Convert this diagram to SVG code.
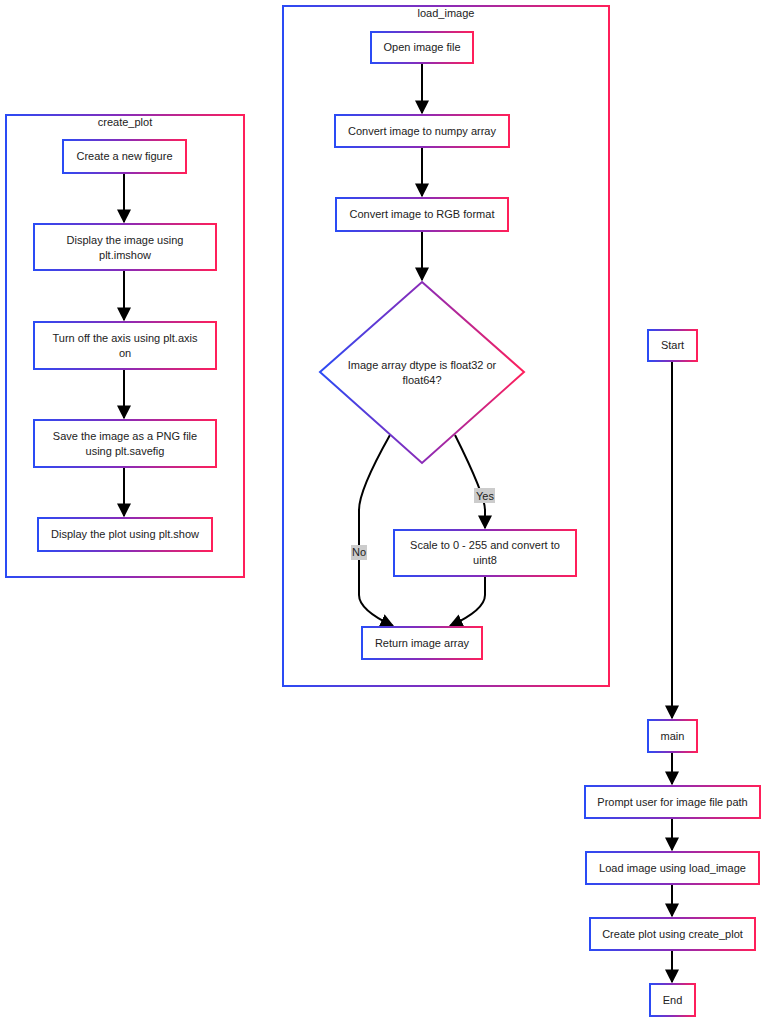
<svg xmlns="http://www.w3.org/2000/svg" width="768" height="1024" viewBox="0 0 768 1024">
<defs>
<linearGradient id="g" x1="0" y1="0" x2="1" y2="0"><stop offset="0" stop-color="#2a4bf5"/><stop offset="0.5" stop-color="#8a2bb8"/><stop offset="1" stop-color="#ff1f5a"/></linearGradient>
<marker id="a" viewBox="0 0 10 10" refX="9" refY="5" markerWidth="7" markerHeight="7" orient="auto"><path d="M0,0L10,5L0,10z" fill="#000"/></marker>
<style>
rect,polygon{fill:#fff;stroke:url(#g);stroke-width:2}
text{font-family:"Liberation Sans",Arial,sans-serif;font-size:11px;fill:#222;text-anchor:middle}
.e{fill:none;stroke:#000;stroke-width:2;marker-end:url(#a)}
.lb{fill:#ccc;stroke:none}
</style>
</defs>
<rect width="768" height="1024" style="fill:#fff;stroke:none"/>
<g id="create_plot"><rect x="6" y="115" width="238" height="462"/><text x="125" y="126">create_plot</text></g>
<g id="load_image"><rect x="283" y="6" width="326" height="680"/><text x="446" y="17">load_image</text></g>
<g id="connectors">
<path class="e" d="M124,173V222"/><path class="e" d="M124,270V320"/><path class="e" d="M124,369V418"/><path class="e" d="M124,467V516"/>
<path class="e" d="M422,63V113"/><path class="e" d="M422,147V196"/><path class="e" d="M422,231V280"/>
<path class="e" d="M390,435Q359,490 359,510V595Q359,610 393,626"/>
<path class="e" d="M455,435Q485,495 485,510V528"/>
<path class="e" d="M485,576V595Q485,610 450,626"/>
<path class="e" d="M672,361V718"/><path class="e" d="M672,752V784"/><path class="e" d="M672,818V850"/><path class="e" d="M672,884V916"/><path class="e" d="M672,950V982"/>
<rect class="lb" x="351" y="545" width="16" height="15"/><text x="359" y="556">No</text>
<rect class="lb" x="474" y="488" width="21" height="15"/><text x="485" y="500">Yes</text>
</g>
<g id="n1"><rect x="63" y="140" width="123" height="33"/><text x="124.5" y="160">Create a new figure</text></g>
<g id="n2"><rect x="34" y="224" width="182" height="46"/><text x="125" y="244">Display the image using</text><text x="125" y="259">plt.imshow</text></g>
<g id="n3"><rect x="34" y="322" width="182" height="47"/><text x="125" y="342">Turn off the axis using plt.axis</text><text x="125" y="357">on</text></g>
<g id="n4"><rect x="34" y="420" width="182" height="47"/><text x="125" y="440">Save the image as a PNG file</text><text x="125" y="455">using plt.savefig</text></g>
<g id="n5"><rect x="38" y="518" width="174" height="33"/><text x="125" y="538">Display the plot using plt.show</text></g>
<g id="m1"><rect x="371" y="32" width="102" height="31"/><text x="422" y="51">Open image file</text></g>
<g id="m2"><rect x="335" y="115" width="174" height="32"/><text x="422" y="135">Convert image to numpy array</text></g>
<g id="m3"><rect x="336" y="198" width="172" height="33"/><text x="422" y="218">Convert image to RGB format</text></g>
<g id="m4"><polygon points="422,282 524,372 422,463 320,372"/><text x="422" y="369">Image array dtype is float32 or</text><text x="422" y="384">float64?</text></g>
<g id="m5"><rect x="394" y="530" width="182" height="46"/><text x="485" y="549">Scale to 0 - 255 and convert to</text><text x="485" y="564">uint8</text></g>
<g id="m6"><rect x="362" y="627" width="120" height="32"/><text x="422" y="647">Return image array</text></g>
<g id="start"><rect x="648" y="330" width="49" height="31"/><text x="672.5" y="349">Start</text></g>
<g id="main"><rect x="648" y="720" width="49" height="32"/><text x="672.5" y="740">main</text></g>
<g id="prompt"><rect x="585" y="786" width="175" height="32"/><text x="672.5" y="806">Prompt user for image file path</text></g>
<g id="load"><rect x="586" y="852" width="173" height="32"/><text x="672.5" y="872">Load image using load_image</text></g>
<g id="create"><rect x="590" y="918" width="165" height="32"/><text x="672.5" y="938">Create plot using create_plot</text></g>
<g id="end"><rect x="650" y="984" width="45" height="32"/><text x="672.5" y="1004">End</text></g>
</svg>
